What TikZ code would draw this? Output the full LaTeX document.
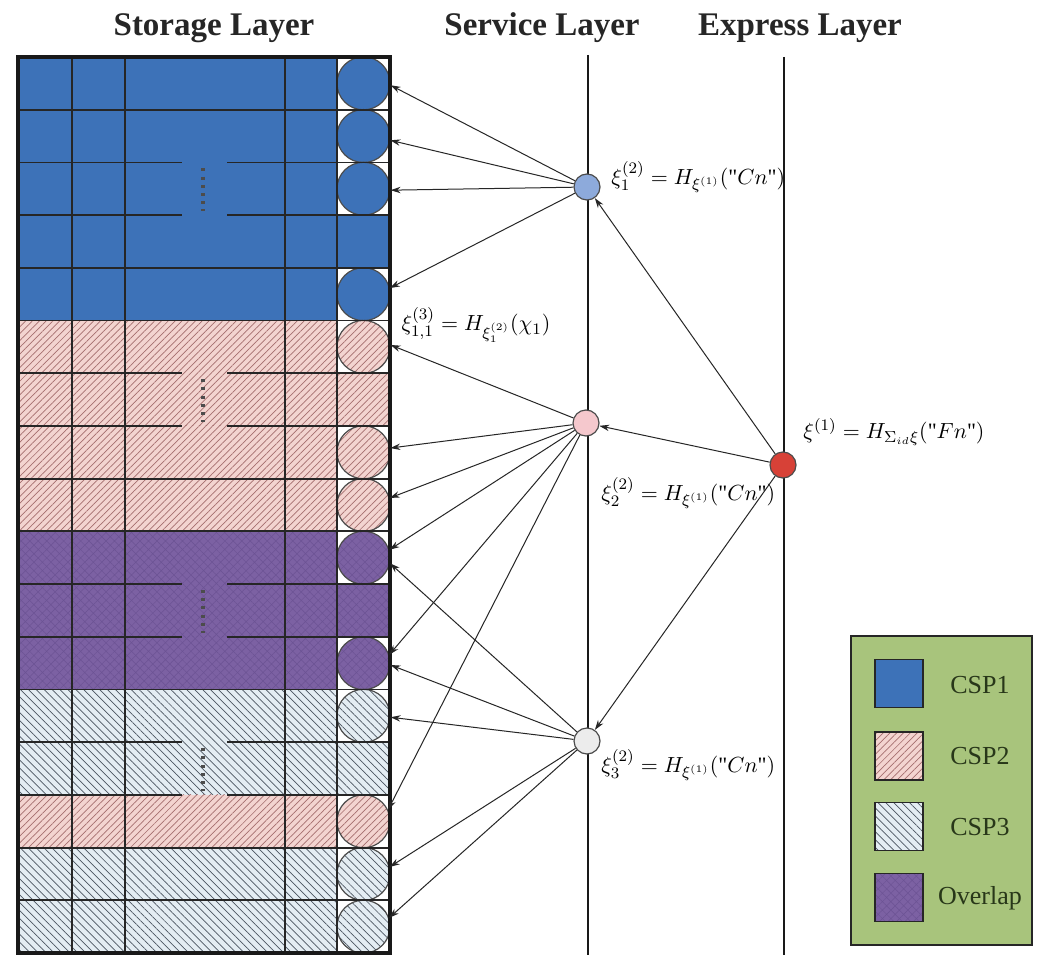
\documentclass[tikz,border=0pt]{standalone}
\usepackage{fontspec}
\setmainfont{Liberation Serif}
\usetikzlibrary{arrows.meta,patterns.meta}
\definecolor{cspA}{RGB}{61,114,184}
\definecolor{cspBfill}{RGB}{243,212,208}
\definecolor{cspBline}{RGB}{165,110,110}
\definecolor{cspCfill}{RGB}{228,237,243}
\definecolor{cspCline}{RGB}{75,85,97}
\definecolor{ovfill}{RGB}{124,97,163}
\definecolor{ovline}{RGB}{108,83,148}
\definecolor{nA}{RGB}{141,170,219}
\definecolor{nB}{RGB}{245,200,205}
\definecolor{nC}{RGB}{236,236,236}
\definecolor{nE}{RGB}{215,65,55}
\definecolor{legfill}{RGB}{168,196,124}
\definecolor{legtext}{RGB}{40,55,25}
\newcommand{\dq}{\mbox{\textquotedbl}}
\begin{document}
\begin{tikzpicture}[x=0.5pt,y=-0.5pt,
  sA/.style={fill=cspA},
  sB/.style={preaction={fill=cspBfill},pattern={Lines[angle=45,distance=2.4pt,line width=0.35pt]},pattern color=cspBline},
  sC/.style={preaction={fill=cspCfill},pattern={Lines[angle=-45,distance=2.8pt,line width=0.35pt]},pattern color=cspCline},
  sO/.style={preaction={fill=ovfill},pattern={Hatch[angle=45,distance=3pt,line width=0.25pt]},pattern color=ovline},
  stor/.style={circle,draw=black!70,line width=0.6pt,minimum size=26.5pt,inner sep=0pt},
  gridline/.style={line width=0.9pt,draw=black!85},
  layer/.style={line width=1.4pt,draw=black!90},
  snode/.style={circle,draw=black!70,line width=0.6pt,minimum size=13pt,inner sep=0pt},
  arr/.style={-{Stealth[length=5pt,width=3.2pt]},line width=0.5pt,draw=black!85},
  lab/.style={font=\fontsize{11}{13}\selectfont,inner sep=0pt},
  head/.style={font=\fontsize{16.5}{20}\selectfont\bfseries,anchor=base,inner sep=0pt,text=black!85},
  swatch/.style={draw=black!85,line width=0.8pt,minimum size=24pt,inner sep=0pt},
  legtxt/.style={font=\fontsize{13}{15}\selectfont,text=legtext,inner sep=0pt}]
\useasboundingbox (0,0) rectangle (1042,978);
\fill[white] (0,0) rectangle (1042,978);
% headers
\node[head] (h1) at (214,36) {Storage Layer};
\node[head] (h2) at (542,36) {Service Layer};
\node[head] (h3) at (800,36) {Express Layer};
% storage rows
\foreach \i/\s/\c in {1/sA/1,2/sA/1,3/sA/1,4/sA/0,5/sA/1,6/sB/1,7/sB/0,8/sB/1,9/sB/1,10/sO/1,11/sO/0,12/sO/1,13/sC/1,14/sC/0,15/sB/1,16/sC/1,17/sC/1}{
  \pgfmathsetmacro\yt{57+(\i-1)*52.706}
  \pgfmathsetmacro\yb{57+\i*52.706}
  \pgfmathsetmacro\ym{57+(\i-0.5)*52.706}
  \path[\s] (18,\yt) rectangle (337,\yb);
  \ifnum\c=1
    \node[stor,\s] (c\i) at (363.5,\ym) {};
  \else
    \path[\s] (337,\yt) rectangle (390,\yb);
  \fi
}
% grid lines
\foreach \k in {1,4,5,8,9,12,15,16}{
  \pgfmathsetmacro\yy{57+\k*52.706}
  \draw[gridline] (18,\yy) -- (390,\yy);
}
\foreach \k in {2,3,6,7,10,11,13,14}{
  \pgfmathsetmacro\yy{57+\k*52.706}
  \draw[gridline] (18,\yy) -- (182,\yy);
  \draw[gridline] (227,\yy) -- (390,\yy);
}
\foreach \xx in {72,125,285,337}{
  \draw[gridline] (\xx,57) -- (\xx,953);
}
% ellipsis dots
\foreach \r in {3,7,11,14}{
  \pgfmathsetmacro\ya{57+(\r-1)*52.706+6}
  \pgfmathsetmacro\yc{57+\r*52.706-4}
  \draw[line width=1.7pt,draw=black!70,dash pattern=on 1.5pt off 2.6pt] (203,\ya) -- (203,\yc);
}
\draw[line width=1.6pt,draw=black!90] (18,57) rectangle (390,953);
% layer lines
\draw[layer] (588,55) -- (588,955);
\draw[layer] (784,57) -- (784,955);
% service and express nodes
\node[snode,fill=nA] (s1) at (587,187) {};
\node[snode,fill=nB] (s2) at (586,423) {};
\node[snode,fill=nC] (s3) at (587,741) {};
\node[snode,fill=nE] (e) at (783,465) {};
% arrows from service nodes
\draw[arr] (s1) -- (c1.-4);
\draw[arr] (s1) -- (c2.-9);
\draw[arr] (s1) -- (c3.-3);
\draw[arr] (s1) -- (c5.13);
\draw[arr] (s2) -- (c6.4);
\draw[arr] (s2) -- (c8.9);
\draw[arr] (s2) -- (c9.15);
\draw[arr] (s2) -- (c10.17);
\draw[arr] (s2) -- (c12.18);
\draw[arr] (s2) -- (c15.25);
\draw[arr] (s3) -- (c10.-12);
\draw[arr] (s3) -- (c12.-4);
\draw[arr] (s3) -- (c13.-3);
\draw[arr] (s3) -- (c16.15);
\draw[arr] (s3) -- (c17.19);
% express arrows
\draw[arr] (e) -- (s1);
\draw[arr] (e) -- (s2);
\draw[arr] (e) -- (s3);
% labels
\node[lab,anchor=west] (l1) at (611,177) {$\xi_1^{(2)}=H_{\xi^{(1)}}(\dq Cn\dq)$};
\node[lab] (l11) at (476,325) {$\xi_{1,1}^{(3)}=H_{\xi_1^{(2)}}(\chi_1)$};
\node[lab,anchor=west] (le) at (803,432) {$\xi^{(1)}=H_{\Sigma_{id}\xi}(\dq Fn\dq)$};
\node[lab,anchor=west] (l2) at (601,493) {$\xi_2^{(2)}=H_{\xi^{(1)}}(\dq Cn\dq)$};
\node[lab,anchor=west] (l3) at (601,765) {$\xi_3^{(2)}=H_{\xi^{(1)}}(\dq Cn\dq)$};
% legend
\node[draw=black!85,line width=0.8pt,fill=legfill,minimum width=90.5pt,minimum height=154.5pt,inner sep=0pt] (legend) at (941.5,790.5) {};
\node[swatch,sA] (k1) at (899,683.5) {};
\node[swatch,sB] (k2) at (899,756) {};
\node[swatch,sC] (k3) at (899,826.5) {};
\node[swatch,sO] (k4) at (899,897.5) {};
\node[legtxt] (t1) at (980,685) {CSP1};
\node[legtxt] (t2) at (980,756) {CSP2};
\node[legtxt] (t3) at (980,827) {CSP3};
\node[legtxt] (t4) at (980,898) {Overlap};
\end{tikzpicture}
\end{document}
